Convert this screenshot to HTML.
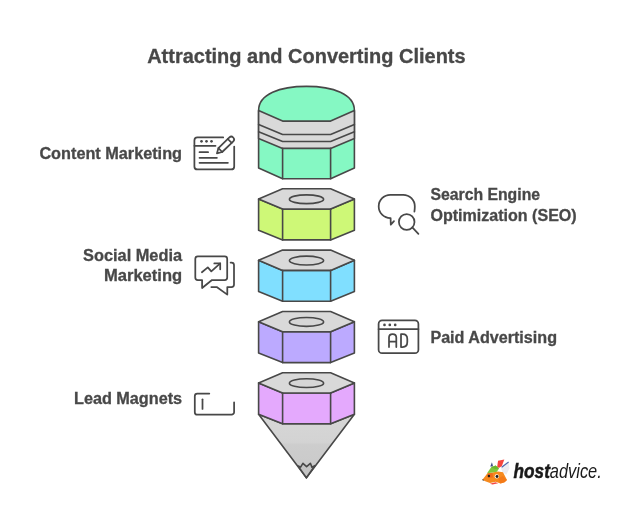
<!DOCTYPE html>
<html>
<head>
<meta charset="utf-8">
<title>Attracting and Converting Clients</title>
<style>
  html, body { margin: 0; padding: 0; background: #ffffff; }
  body { width: 624px; height: 507px; overflow: hidden; position: relative;
         font-family: "Liberation Sans", sans-serif; }
  svg { position: absolute; left: 0; top: 0; display: block; }
  svg { will-change: transform; }
  text { font-family: "Liberation Sans", sans-serif; font-weight: bold; fill: #484848; stroke: #484848; stroke-width: 0.3; }
  .s { stroke: #484848; stroke-width: 1.6; stroke-linejoin: round; stroke-linecap: round; }
  .g { fill: #d9d9d9; }
  .i { fill: none; stroke: #484848; stroke-width: 1.75; stroke-linejoin: round; stroke-linecap: round; }
</style>
</head>
<body>
<svg width="624" height="507" viewBox="0 0 624 507">
  <defs>
    <linearGradient id="cone" x1="0" y1="0" x2="0" y2="1">
      <stop offset="0" stop-color="#d7d7d7"/>
      <stop offset="0.44" stop-color="#d3d3d3"/>
      <stop offset="0.48" stop-color="#cdcdcd"/>
      <stop offset="1" stop-color="#c9c9c9"/>
    </linearGradient>
  </defs>

  <!-- title -->
  <text x="147.2" y="63.0" font-size="19.6" textLength="318.4" lengthAdjust="spacingAndGlyphs">Attracting and Converting Clients</text>

  <!-- labels -->
  <text x="39.4" y="159.0" font-size="16" textLength="142.6" lengthAdjust="spacingAndGlyphs">Content Marketing</text>
  <text x="430.4" y="200.0" font-size="16" textLength="109.7" lengthAdjust="spacingAndGlyphs">Search Engine</text>
  <text x="430.4" y="220.8" font-size="16" textLength="146.3" lengthAdjust="spacingAndGlyphs">Optimization (SEO)</text>
  <text x="83.0" y="261.1" font-size="16" textLength="99.1" lengthAdjust="spacingAndGlyphs">Social Media</text>
  <text x="104.0" y="281.3" font-size="16" textLength="78.1" lengthAdjust="spacingAndGlyphs">Marketing</text>
  <text x="430.4" y="342.6" font-size="16" textLength="126.6" lengthAdjust="spacingAndGlyphs">Paid Advertising</text>
  <text x="74.0" y="404.0" font-size="16" textLength="108.1" lengthAdjust="spacingAndGlyphs">Lead Magnets</text>

  <!-- pencil tip (cone) -->
  <g class="s">
    <path d="M258.6 414.2 L306.4 477.8 L354.4 414.2 L330.6 423.8 L282.6 423.8 Z" fill="url(#cone)"/>
    <path d="M298 465.9 L300.6 467.1 L302.9 463.3 L306.6 466.7 L310.4 463.3 L311.9 467.1 L314.8 465.7 L306.4 477.8 Z" fill="#c4c4c4"/>
  </g>

  <!-- eraser (top) -->
  <g class="s">
    <path d="M258.6 110.5 C258.6 94 280 86.4 306.5 86.4 C333 86.4 354.4 94 354.4 110.5 L354.4 168.0 L330.6 178.7 L282.6 178.7 L258.6 168.0 Z" fill="#85f8c3"/>
    <path d="M258.6 110.5 L282.6 121.1 L330.6 121.1 L354.4 110.5 L354.4 138.6 L330.6 148.4 L282.6 148.4 L258.6 138.6 Z" class="g"/>
    <path d="M258.6 124.4 L282.6 134.5 L330.6 134.5 L354.4 124.4" fill="none"/>
    <path d="M258.6 131.8 L282.6 141.5 L330.6 141.5 L354.4 131.8" fill="none"/>
    <path d="M282.6 148.4 L282.6 178.7 M330.6 148.4 L330.6 178.7" fill="none"/>
  </g>

  <!-- nut 1 -->
  <g class="s" transform="translate(0,188.8)">
    <path d="M258.6 10.2 L282.6 20.3 L330.6 20.3 L354.4 10.2 L354.4 41.5 L330.6 51.1 L282.6 51.1 L258.6 41.5 Z" fill="#cef877"/>
    <path d="M282.6 0 L330.6 0 L354.4 10.2 L330.6 20.3 L282.6 20.3 L258.6 10.2 Z" class="g"/>
    <ellipse cx="306.5" cy="10.45" rx="17.1" ry="4.4" fill="#d6d6d6"/>
    <path d="M282.6 20.3 L282.6 51.1 M330.6 20.3 L330.6 51.1" fill="none"/>
  </g>
  <!-- nut 2 -->
  <g class="s" transform="translate(0,250.1)">
    <path d="M258.6 10.2 L282.6 20.3 L330.6 20.3 L354.4 10.2 L354.4 41.5 L330.6 51.1 L282.6 51.1 L258.6 41.5 Z" fill="#80dfff"/>
    <path d="M282.6 0 L330.6 0 L354.4 10.2 L330.6 20.3 L282.6 20.3 L258.6 10.2 Z" class="g"/>
    <ellipse cx="306.5" cy="10.45" rx="17.1" ry="4.4" fill="#d6d6d6"/>
    <path d="M282.6 20.3 L282.6 51.1 M330.6 20.3 L330.6 51.1" fill="none"/>
  </g>
  <!-- nut 3 -->
  <g class="s" transform="translate(0,311.5)">
    <path d="M258.6 10.2 L282.6 20.3 L330.6 20.3 L354.4 10.2 L354.4 41.5 L330.6 51.1 L282.6 51.1 L258.6 41.5 Z" fill="#bcaaff"/>
    <path d="M282.6 0 L330.6 0 L354.4 10.2 L330.6 20.3 L282.6 20.3 L258.6 10.2 Z" class="g"/>
    <ellipse cx="306.5" cy="10.45" rx="17.1" ry="4.4" fill="#d6d6d6"/>
    <path d="M282.6 20.3 L282.6 51.1 M330.6 20.3 L330.6 51.1" fill="none"/>
  </g>
  <!-- nut 4 -->
  <g class="s" transform="translate(0,372.7)">
    <path d="M258.6 10.2 L282.6 20.3 L330.6 20.3 L354.4 10.2 L354.4 41.5 L330.6 51.1 L282.6 51.1 L258.6 41.5 Z" fill="#e4a9fd"/>
    <path d="M282.6 0 L330.6 0 L354.4 10.2 L330.6 20.3 L282.6 20.3 L258.6 10.2 Z" class="g"/>
    <ellipse cx="306.5" cy="10.45" rx="17.1" ry="4.4" fill="#d6d6d6"/>
    <path d="M282.6 20.3 L282.6 51.1 M330.6 20.3 L330.6 51.1" fill="none"/>
  </g>

  <!-- icon: content marketing -->
  <g class="i">
    <path d="M223.2 137.4 L197.4 137.4 A3 3 0 0 0 194.4 140.4 L194.4 166.4 A3 3 0 0 0 197.4 169.4 L231.2 169.4 A3 3 0 0 0 234.2 166.4 L234.2 146.6"/>
    <path d="M194.4 145.8 L215.5 145.8"/>
    <path d="M199.5 152.2 L208.1 152.2 M199.5 157.8 L216.9 157.8 M199.5 162.8 L227.9 162.8"/>
    <path d="M216.9 153.4 L218.4 148.2 L229.4 137.4 Q231.3 135.6 233.2 137.5 Q235.1 139.4 233.3 141.3 L222.2 152 Z"/>
    <path d="M218.4 148.2 L222.2 152 M227.8 139 L231.7 142.9"/>
  </g>
  <g fill="#484848">
    <circle cx="201.5" cy="141.3" r="1.35"/><circle cx="206.5" cy="141.3" r="1.35"/><circle cx="211.5" cy="141.3" r="1.35"/>
  </g>

  <!-- icon: SEO -->
  <g class="i">
    <path d="M414.4 211.6 Q414.8 209 414.8 206.4 A11.6 11.6 0 0 0 403.2 194.8 L390.3 194.8 A11.6 11.6 0 0 0 378.7 206.4 A11.6 11.6 0 0 0 390.3 218 L390.6 218 L390.8 224.6 L394 221.1"/>
    <circle cx="406.7" cy="222" r="7.8"/>
    <path d="M412.3 227.3 L418.4 233.8"/>
  </g>

  <!-- icon: social media -->
  <g class="i">
    <path d="M202.1 280 L197.8 280 A2.5 2.5 0 0 1 195.3 277.5 L195.3 258.8 A2.5 2.5 0 0 1 197.8 256.3 L224.7 256.3 A2.5 2.5 0 0 1 227.2 258.8 L227.2 277.5 A2.5 2.5 0 0 1 224.7 280 L212 280 L202.1 288 Z"/>
    <path d="M230.6 262.6 L231.5 262.6 A2.5 2.5 0 0 1 234 265.1 L234 284.5 A2.5 2.5 0 0 1 231.5 287 L227.3 287 L227.3 294.6 L216.7 287 L211.3 287"/>
    <path d="M201.9 272.2 L207.8 267.4 L211.3 271.3 L220.2 263.4"/>
    <path d="M214.3 263.4 L220.2 263.4 L220.2 269.3"/>
  </g>

  <!-- icon: paid advertising -->
  <g class="i">
    <rect x="378.6" y="320.4" width="39.8" height="32.8" rx="3.5" ry="3.5"/>
    <path d="M378.6 329.2 L418.4 329.2"/>
    <path d="M389 347 L389 337.6 Q389 334 392.65 334 Q396.3 334 396.3 337.6 L396.3 347 M389 341.7 L396.3 341.7"/>
    <path d="M401 334 L401 347 L402.6 347 Q407.3 347 407.3 342 L407.3 339 Q407.3 334 402.6 334 Z"/>
  </g>
  <g fill="#484848">
    <circle cx="384.5" cy="324.9" r="1.35"/><circle cx="389.8" cy="324.9" r="1.35"/><circle cx="395.2" cy="324.9" r="1.35"/>
  </g>

  <!-- icon: lead magnets -->
  <g class="i">
    <path d="M209.3 393.5 L197.3 393.5 A2.5 2.5 0 0 0 194.8 396 L194.8 412.2 A2.5 2.5 0 0 0 197.3 414.7 L231.6 414.7 A2.5 2.5 0 0 0 234.1 412.2 L234.1 402.3"/>
    <path d="M202.5 399.3 L202.5 408.9"/>
  </g>

  <!-- logo: fox -->
  <g transform="translate(474,452) scale(0.08013)">
    <polygon points="335,195 432,122 442,205 402,285 355,250" fill="#ececf1"/>
    <polygon points="340,185 428,120 436,132 350,196" fill="#5168ad"/>
    <polygon points="203,182 224,128 238,182" fill="#3d4c86"/>
    <polygon points="288,192 300,108 378,94 348,176 316,198" fill="#f6453e"/>
    <polygon points="105,345 168,266 300,244 362,254 412,350 382,376 330,392 270,370 200,386 140,366" fill="#f68a1e"/>
    <polygon points="168,268 232,262 236,318 176,322" fill="#ee6a1c"/>
    <polygon points="300,330 360,300 410,350 380,376 330,392" fill="#f47a18"/>
    <polygon points="163,266 214,190 270,170 312,206 286,246 228,256" fill="#82c63c"/>
    <polygon points="214,190 270,170 312,206 262,212" fill="#6bb52e"/>
    <polygon points="198,396 268,376 302,390 232,406" fill="#f6453e"/>
    <polygon points="100,340 128,350 112,360" fill="#2a2a2a"/>
    <circle cx="284" cy="305" r="27" fill="#ffffff"/>
    <circle cx="287" cy="306" r="18" fill="#1d1d1d"/>
    <circle cx="186" cy="300" r="15" fill="#1d1d1d"/>
  </g>
  <!-- logo text -->
  <text x="513.6" y="478.2" font-size="19.8" font-style="italic" font-weight="bold" textLength="36.3" lengthAdjust="spacingAndGlyphs" style="fill:#1a1a1a;stroke:#1a1a1a;stroke-width:0.5">host</text>
  <text x="549.8" y="478.2" font-size="19.8" font-style="italic" textLength="52" lengthAdjust="spacingAndGlyphs" style="fill:#1a1a1a;stroke:none;font-weight:normal">advice.</text>
</svg>
</body>
</html>
